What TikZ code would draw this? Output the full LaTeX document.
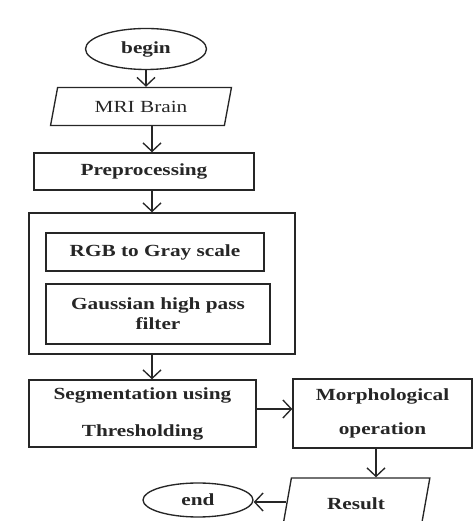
\documentclass[tikz,border=0pt]{standalone}
\usepackage{fontspec}
\setmainfont{Liberation Serif}[FakeStretch=1.25]
\usepackage{tikz}
\usetikzlibrary{arrows.meta,shapes.geometric,positioning}
\newcommand{\flowfont}{\fontsize{17}{20}\selectfont}

\begin{document}
\begin{tikzpicture}[x=1pt,y=1pt,->,>={Straight Barb[length=8.5pt,width=18pt]},
    line width=1.35pt,color=black!85,node distance=60pt,
    font=\flowfont\bfseries]
\tikzstyle{terminal}=[ellipse,draw,inner sep=0pt]
\tikzstyle{io}=[trapezium,trapezium left angle=71,trapezium right angle=109,
    trapezium stretches=true,draw,inner sep=0pt]
\tikzstyle{process}=[rectangle,draw,inner sep=0pt,align=center]

\useasboundingbox (0,0) rectangle (474,521);

\node[terminal,minimum width=121pt,minimum height=41pt]
    (begin) at (146,472) {begin};
\node[io,font=\flowfont,minimum width=182pt,minimum height=38pt]
    (mri) [below of=begin,node distance=57.5pt,xshift=-5pt] {MRI Brain};
\node[process,minimum width=220pt,minimum height=37pt]
    (preproc) [below of=mri,node distance=65pt,xshift=3pt] {Preprocessing};
\node[process,minimum width=266pt,minimum height=141pt]
    (filters) [below of=preproc,node distance=112pt,xshift=18pt] {};
\node[process,minimum width=218pt,minimum height=38pt]
    (gray) [below of=preproc,node distance=80.5pt,xshift=11pt] {RGB to Gray scale};
\node[process,minimum width=224pt,minimum height=60pt]
    (gauss) [below of=gray,node distance=62pt,xshift=3pt] {Gaussian high pass\\filter};
\node[process,minimum width=227pt,minimum height=67pt]
    (seg) [below of=filters,node distance=130pt,xshift=-19.5pt] {Segmentation using\\[17pt]Thresholding};
\node[process,minimum width=179pt,minimum height=69pt]
    (morph) [right of=seg,node distance=240pt] {Morphological\\[14pt]operation};
\node[io,minimum width=148pt,minimum height=52pt]
    (result) [below of=morph,node distance=90.5pt,xshift=-26.5pt] {Result};
\node[terminal,minimum width=110pt,minimum height=34pt]
    (end) [left of=result,node distance=158pt,yshift=4pt] {end};

\coordinate (spine) at (152,0);
\path (begin.south) edge (begin.south |- mri.north)
      (mri.south -| spine) edge (preproc.north -| spine)
      (preproc.south -| spine) edge (filters.north -| spine)
      (filters.south -| spine) edge (seg.north -| spine)
      ([yshift=4.5pt]seg.east) edge ([yshift=4.5pt]seg.east -| morph.west)
      ([xshift=-6.5pt]morph.south) edge ([xshift=-6.5pt]morph.south |- result.north)
      ([yshift=2pt]result.west) edge ([yshift=2pt]result.west -| end.east)
;
\end{tikzpicture}
\end{document}
